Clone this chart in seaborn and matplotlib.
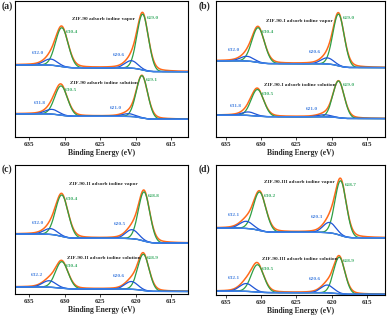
import numpy as np
import matplotlib
matplotlib.use("Agg")
import matplotlib.pyplot as plt
import seaborn as sns

# ── Data ────────────────────────────────────────────────────────────────────────
PANEL_TAGS = ["(a)", "(b)", "(c)", "(d)"]
SAMPLES    = ["ZIF-90", "ZIF-90-I", "ZIF-90-II", "ZIF-90-III"]
TICKS      = [635, 630, 625, 620, 615]

# upper trace: adsorb iodine vapor
VAPOR_MAIN_BE  = [[630.4, 619.0], [630.4, 619.0], [630.4, 618.8], [630.2, 618.7]]
VAPOR_MAIN_H   = [[0.285, 0.41], [0.255, 0.38], [0.32, 0.38], [0.295, 0.42]]
VAPOR_MINOR_BE = [[632.0, 620.6], [632.0, 620.6], [632.0, 620.5], [632.1, 620.3]]
VAPOR_MINOR_H  = [[0.045, 0.055], [0.035, 0.045], [0.045, 0.07], [0.055, 0.08]]
VAPOR_BG       = [[0.53, 0.48], [0.56, 0.51], [0.465, 0.395], [0.515, 0.44]]

# lower trace: adsorb iodine solution
SOLN_MAIN_BE  = [[630.5, 619.1], [630.5, 619.0], [630.4, 618.9], [630.5, 618.9]]
SOLN_MAIN_H   = [[0.215, 0.31], [0.195, 0.27], [0.205, 0.28], [0.21, 0.28]]
SOLN_MINOR_BE = [[631.8, 621.0], [631.8, 621.0], [632.2, 620.6], [632.1, 620.6]]
SOLN_MINOR_H  = [[0.035, 0.02], [0.025, 0.015], [0.05, 0.06], [0.06, 0.06]]
SOLN_BG       = [[0.17, 0.13], [0.16, 0.135], [0.055, 0.02], [0.03, 0.005]]

MAIN_FWHM  = [2.1, 1.9]
MINOR_FWHM = [2.2, 2.1]

TITLE_Y = [[0.87, 0.40], [0.85, 0.38], [0.85, 0.28], [0.87, 0.28]]
XLIMS   = [(637.0, 612.6), (636.4, 612.4), (637.0, 612.6), (636.4, 612.4)]

# axes boxes in figure fractions (left, bottom, width, height)
BOXES = [(0.039, 0.580, 0.447, 0.417), (0.558, 0.580, 0.437, 0.417),
         (0.039, 0.098, 0.447, 0.396), (0.558, 0.095, 0.437, 0.399)]

ORANGE   = "#ff6a1a"
GREEN    = "#2f9e44"
BLUE     = "#1f55d6"
BG_BLUE  = "#3d82ec"
GREEN_TX = "#3fae68"
BLUE_TX  = "#4a84e0"

sns.set_style("ticks")
plt.rcParams["font.family"] = ["Liberation Serif", "DejaVu Serif"]
plt.rcParams["font.weight"] = "bold"


def gauss(x, c, h, fwhm):
    s = fwhm / 2.3548
    return h * np.exp(-0.5 * ((x - c) / s) ** 2)


def lorentz(x, c, h, fwhm):
    g = fwhm / 2
    return h * g ** 2 / ((x - c) ** 2 + g ** 2)


def draw_spectrum(ax, x, main_be, main_h, minor_be, minor_h, bg_ends):
    greens = [gauss(x, c, h, w) for c, h, w in zip(main_be, main_h, MAIN_FWHM)]
    blues  = [gauss(x, c, h, w) for c, h, w in zip(minor_be, minor_h, MINOR_FWHM)]
    peaks  = sum(greens) + sum(blues)
    # Shirley-like step background (x ascending = low BE first)
    cum = np.cumsum(peaks)
    cum = cum / cum[-1]
    bg = bg_ends[1] + (bg_ends[0] - bg_ends[1]) * cum

    envelope = bg.copy()
    for c, h, w in list(zip(main_be, main_h, MAIN_FWHM)) + list(zip(minor_be, minor_h, MINOR_FWHM)):
        envelope += 0.72 * gauss(x, c, h, w) + 0.28 * lorentz(x, c, h, w)

    sns.lineplot(x=x, y=envelope, ax=ax, color=ORANGE, lw=1.1)
    for g in greens:
        sns.lineplot(x=x, y=bg + g, ax=ax, color=GREEN, lw=0.9)
    for b in blues:
        sns.lineplot(x=x, y=bg + b, ax=ax, color=BLUE, lw=0.9)
    sns.lineplot(x=x, y=bg, ax=ax, color=BG_BLUE, lw=1.0)

    # peak labels
    for c, h in zip(main_be, main_h):
        top = h + np.interp(c, x, bg)
        ax.text(c - 0.55, top - 0.03, f"{c:.1f}", color=GREEN_TX, fontsize=3.9,
                fontweight="bold", ha="left", va="center")
    for c, h in zip(minor_be, minor_h):
        top = h + np.interp(c, x, bg)
        ax.text(c + 0.9, top + 0.045, f"{c:.1f}", color=BLUE_TX, fontsize=3.9,
                fontweight="bold", ha="right", va="center")


fig = plt.figure(figsize=(3.87, 3.26), dpi=100)

for i in range(4):
    ax = fig.add_axes(BOXES[i])
    x = np.linspace(612.0, 637.5, 800)
    draw_spectrum(ax, x, VAPOR_MAIN_BE[i], VAPOR_MAIN_H[i],
                  VAPOR_MINOR_BE[i], VAPOR_MINOR_H[i], VAPOR_BG[i])
    draw_spectrum(ax, x, SOLN_MAIN_BE[i], SOLN_MAIN_H[i],
                  SOLN_MINOR_BE[i], SOLN_MINOR_H[i], SOLN_BG[i])

    ax.text(624.5, TITLE_Y[i][0], f"{SAMPLES[i]} adsorb iodine vapor",
            fontsize=3.8, fontweight="bold", ha="center", va="center")
    ax.text(624.5, TITLE_Y[i][1], f"{SAMPLES[i]} adsorb iodine solution",
            fontsize=3.8, fontweight="bold", ha="center", va="center")

    ax.set_xlim(*XLIMS[i])
    ax.set_ylim(0, 1)
    ax.set_yticks([])
    ax.set_xticks(TICKS)
    ax.set_xticklabels([str(t) for t in TICKS], fontsize=5, fontweight="bold")
    ax.tick_params(axis="x", length=2, width=0.6, pad=1.5)
    ax.set_xlabel("Binding Energy (eV)", fontsize=5.5, fontweight="bold", labelpad=1.5)
    ax.set_ylabel("")
    for sp in ax.spines.values():
        sp.set_linewidth(0.8)
        sp.set_color("black")

    lx = 0.003 if i % 2 == 0 else 0.514
    ly = 0.995 if i < 2 else 0.497
    fig.text(lx, ly, PANEL_TAGS[i], fontsize=7, fontweight="bold", ha="left", va="top")

fig.savefig("out.png", dpi=100)
